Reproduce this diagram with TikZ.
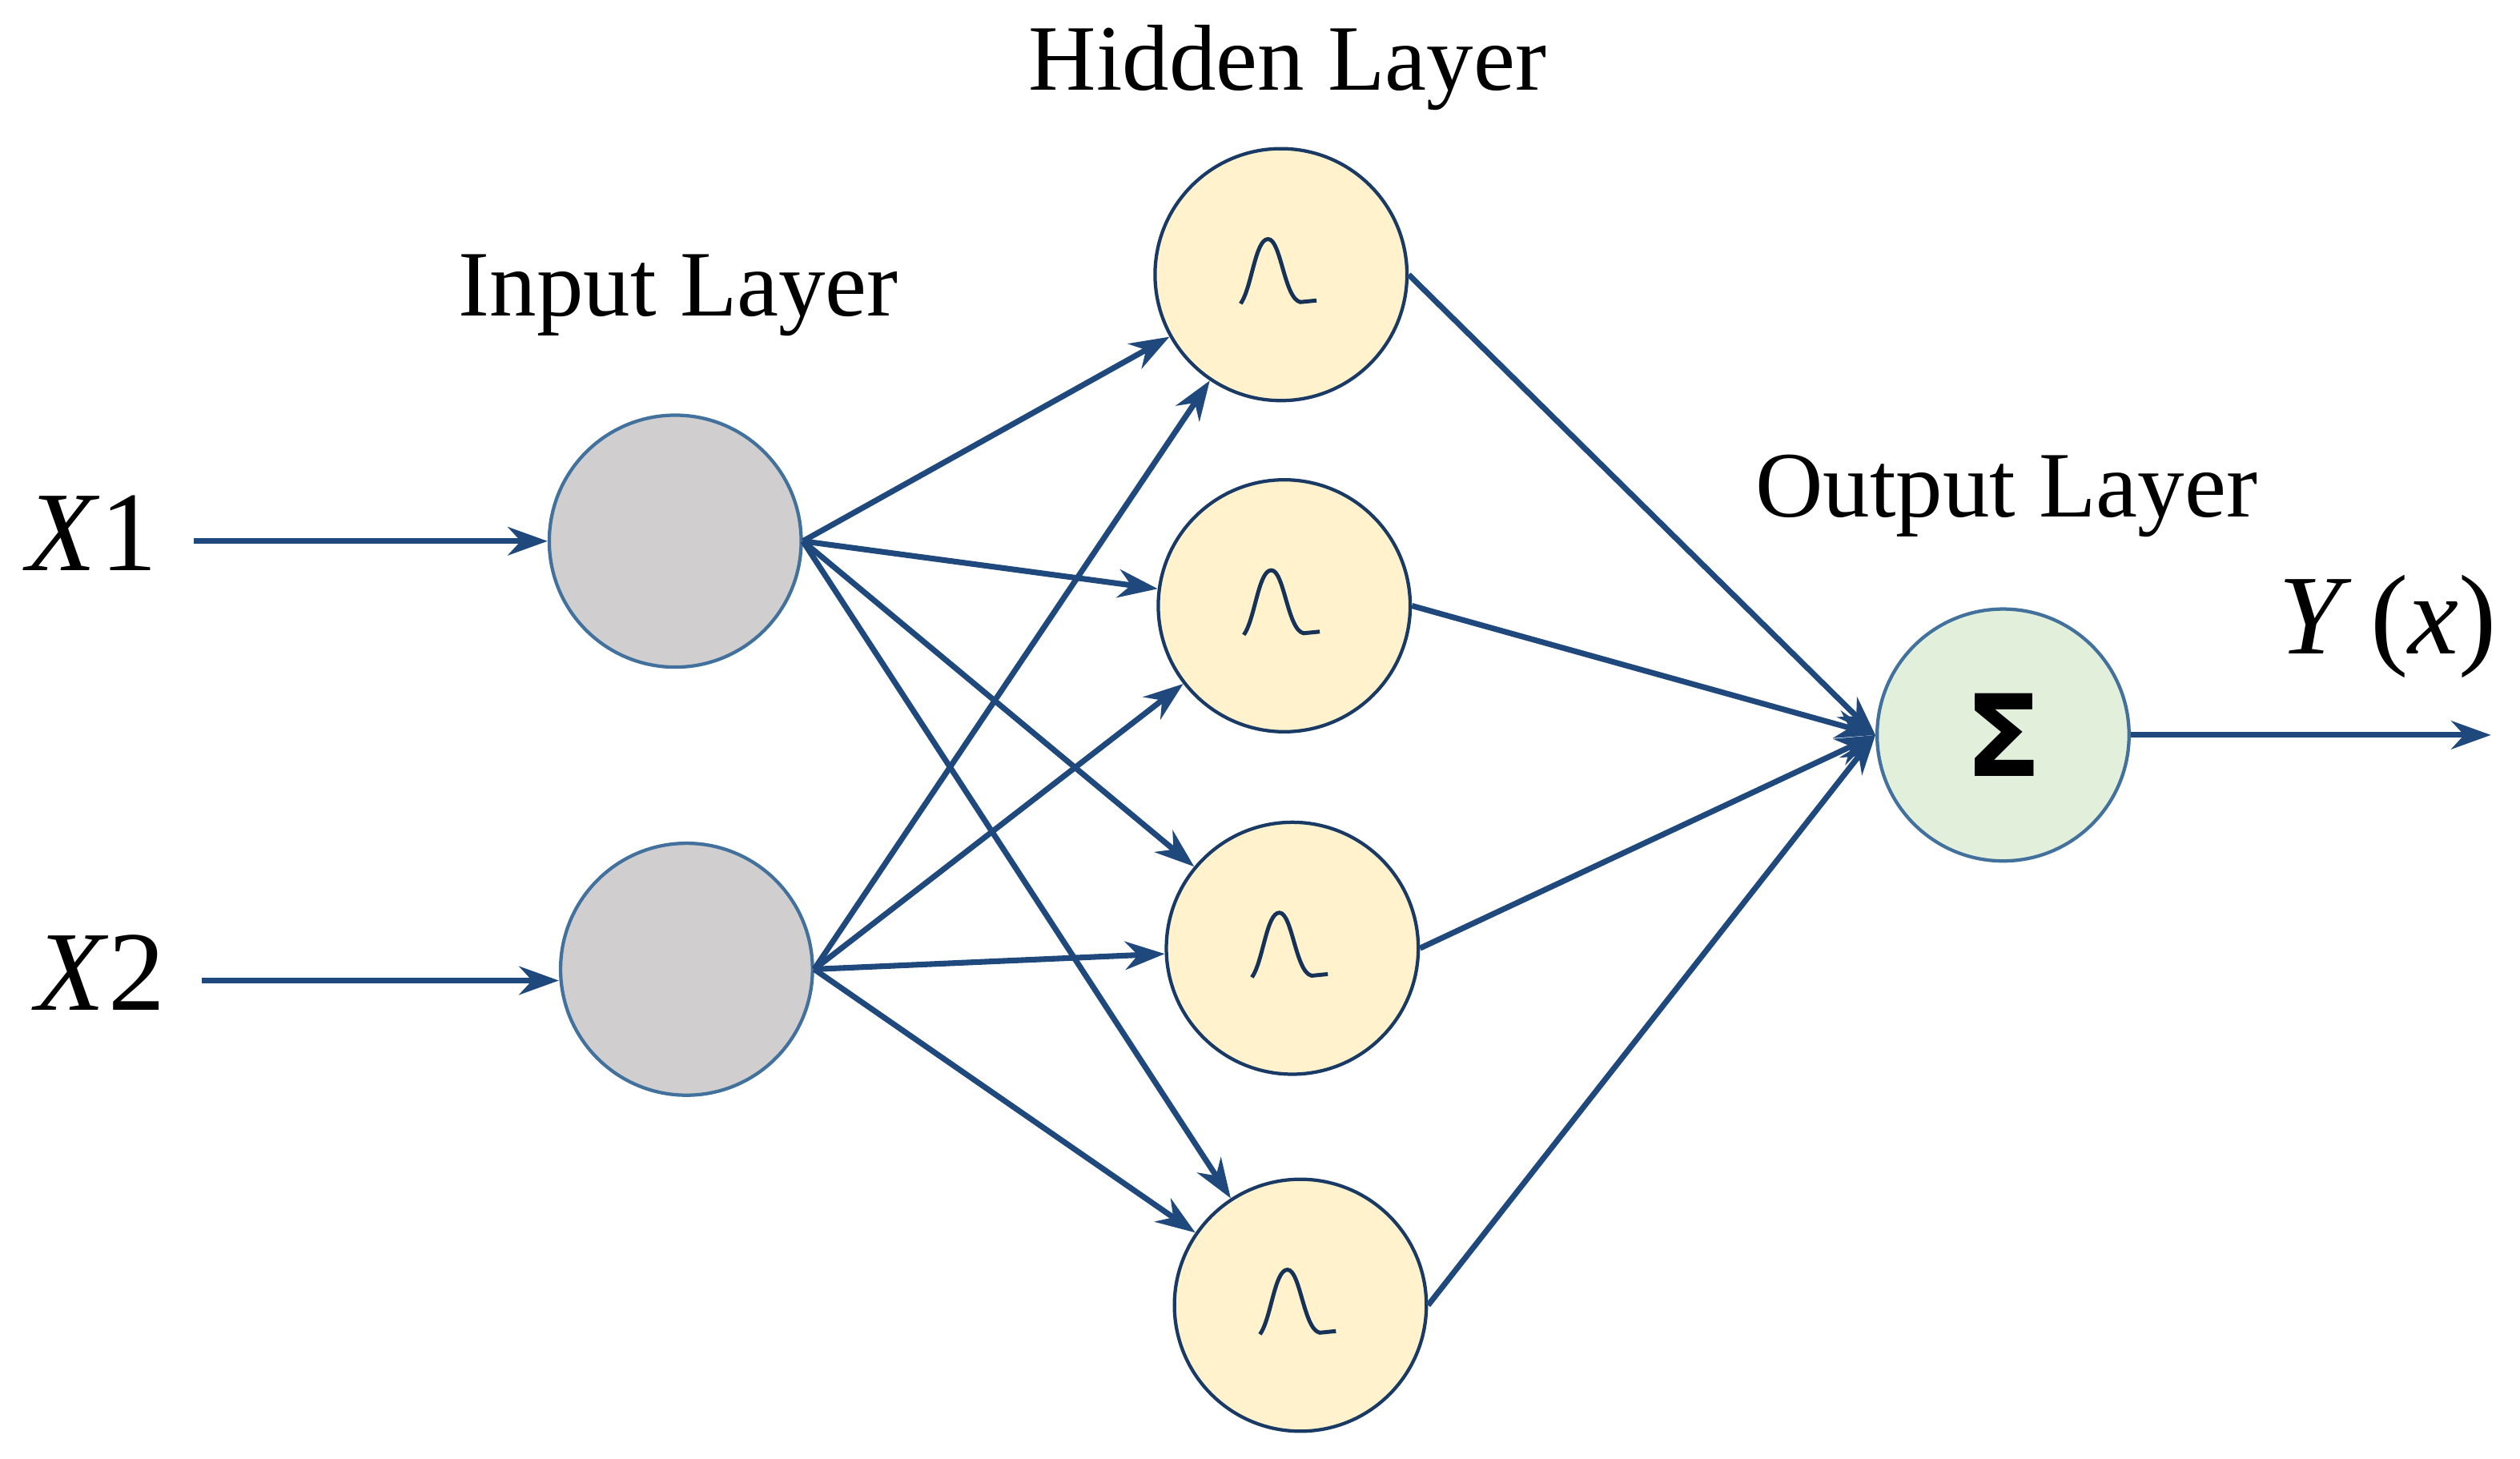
\documentclass[tikz,border=0pt]{standalone}
\usepackage{fontspec}
\setmainfont{Liberation Serif}
\newfontfamily\sigfont{DejaVu Sans}
\usetikzlibrary{arrows.meta}
\definecolor{ln}{RGB}{31,73,125}
\definecolor{inb}{RGB}{65,113,156}
\definecolor{ing}{RGB}{208,206,206}
\definecolor{hid}{RGB}{255,242,204}
\definecolor{outg}{RGB}{226,239,218}
\begin{document}
\begin{tikzpicture}[x=0.02cm,y=-0.02cm,
  neu/.style={circle,minimum size=3.12cm,inner sep=0pt,draw=inb,line width=1.2pt},
  inp/.style={neu,fill=ing},
  hidn/.style={neu,fill=hid,draw=ln!80!black},
  outn/.style={neu,fill=outg},
  con/.style={draw=ln,line width=2pt,-{Stealth[length=14pt,width=10pt]}},
  lab/.style={font=\fontsize{33}{35}\selectfont},
  var/.style={font=\fontsize{40}{42}\selectfont}]
\useasboundingbox (0,0) rectangle (1560,903);
\node[inp] (i1) at (418,335) {};
\node[inp] (i2) at (425,600) {};
\foreach \n/\x/\y in {1/793/170,2/795/375,3/800/587,4/805/808}{
  \node[hidn] (h\n) at (\x,\y) {};
  \begin{scope}[shift={(\x,\y)}]
  \draw[line width=1.4pt,ln!70!black] (-25,18) .. controls (-18,8) and (-16,-22) .. (-8,-22)
    .. controls (0,-22) and (2,15) .. (12,17) -- (22,16);
  \end{scope}
}
\node[outn] (o) at (1240,455) {\fontsize{40}{40}\selectfont\sigfont\bfseries Σ};
\node[var] (x1) at (57,330) {\textit{X}1};
\node[var] (x2) at (62,602) {\textit{X}2};
\node[var] (y) at (1478,388) {\textit{Y}\,(\textit{x})};
\coordinate (a1) at (120,335);
\coordinate (a2) at (125,607);
\coordinate (ye) at (1542,455);
\node[lab] (l1) at (420,183) {Input Layer};
\node[lab] (l2) at (797,42) {Hidden Layer};
\node[lab] (l3) at (1242,307) {Output Layer};
\draw[con] (a1) -- (a1 -| i1.west);
\draw[con] (a2) -- (a2 -| i2.west);
\foreach \i in {1,2}{\foreach \h in {1,...,4}{\draw[con] (i\i.east) -- (h\h);}}
\foreach \h in {1,...,4}{\draw[con] (h\h.east) -- (o.west);}
\draw[con] (o) -- (ye);
\end{tikzpicture}
\end{document}
